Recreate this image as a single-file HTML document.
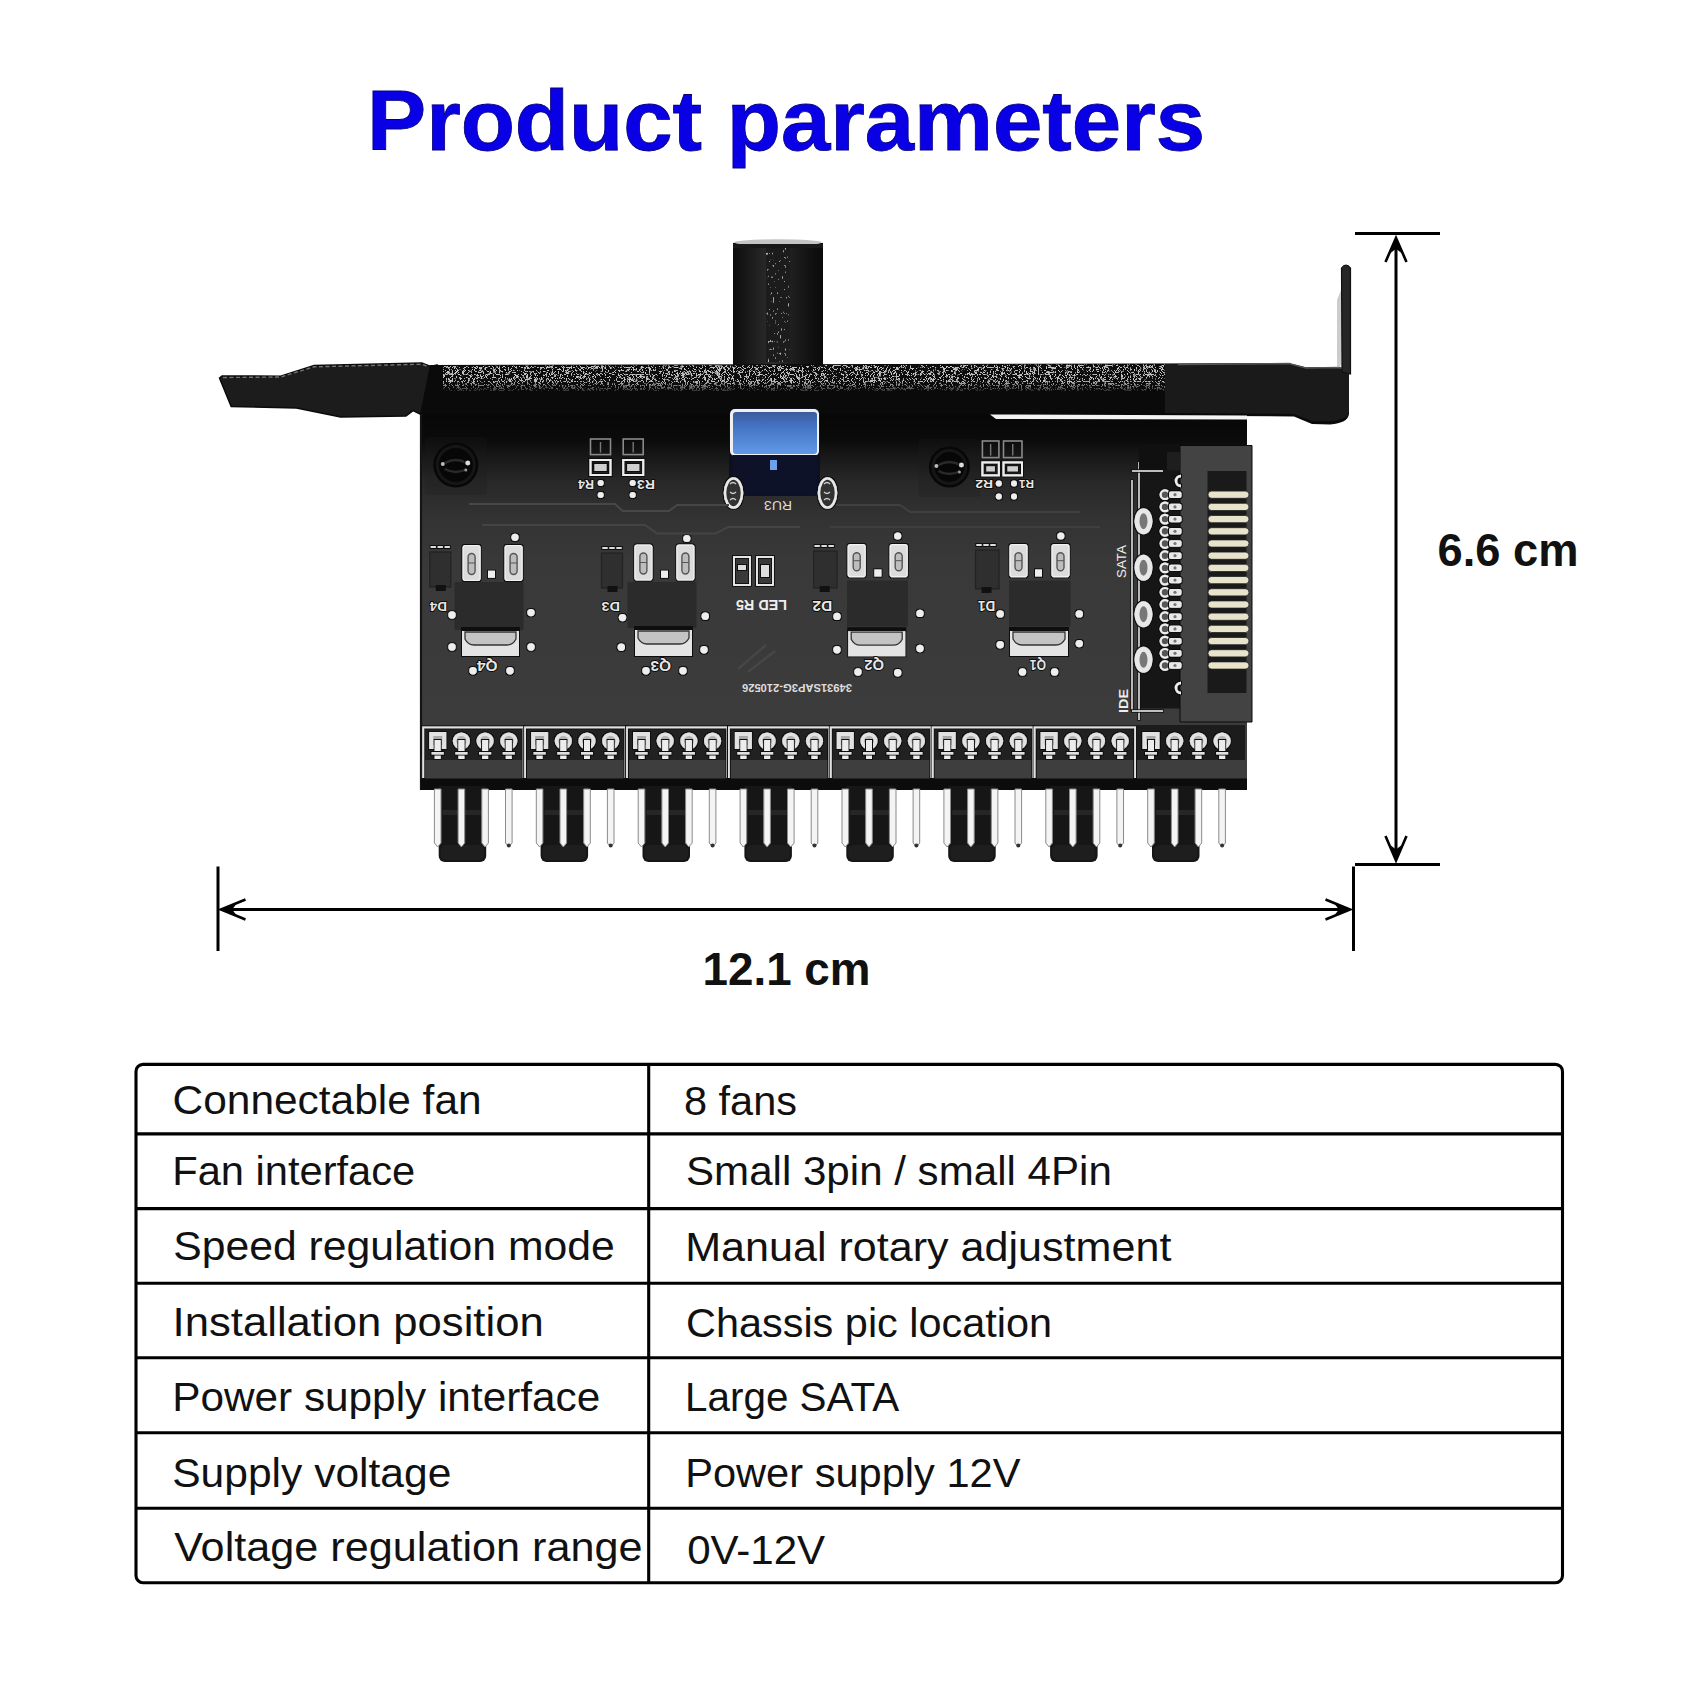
<!DOCTYPE html>
<html><head><meta charset="utf-8"><title>Product parameters</title>
<style>
html,body{margin:0;padding:0;background:#fff;}
body{width:1700px;height:1700px;overflow:hidden;font-family:"Liberation Sans",sans-serif;}
svg{display:block;position:absolute;left:0;top:0;}
</style></head>
<body>
<svg width="1700" height="1700" viewBox="0 0 1700 1700">
<defs>
<linearGradient id="pcbg" gradientUnits="userSpaceOnUse" x1="0" y1="414" x2="0" y2="788">
 <stop offset="0" stop-color="#070707"/><stop offset="0.07" stop-color="#0b0b0b"/><stop offset="0.11" stop-color="#171717"/><stop offset="0.18" stop-color="#282828"/><stop offset="0.28" stop-color="#333"/><stop offset="0.40" stop-color="#393939"/><stop offset="1" stop-color="#3d3d3d"/>
</linearGradient>
<linearGradient id="knobg" x1="0" y1="0" x2="1" y2="0">
 <stop offset="0" stop-color="#0c0c0c"/><stop offset="0.2" stop-color="#1c1c1c"/><stop offset="0.45" stop-color="#2e2e2e"/><stop offset="0.6" stop-color="#222"/><stop offset="0.85" stop-color="#121212"/><stop offset="1" stop-color="#0a0a0a"/>
</linearGradient>
<linearGradient id="blueg" x1="0" y1="0" x2="0" y2="1">
 <stop offset="0" stop-color="#3b5c9c"/><stop offset="0.35" stop-color="#4574c4"/><stop offset="1" stop-color="#6199e8"/>
</linearGradient>
<filter id="tex" x="0" y="0" width="1" height="1">
 <feTurbulence type="turbulence" baseFrequency="0.32 0.28" numOctaves="1" seed="7" result="n"/>
 <feColorMatrix in="n" type="matrix" values="0 0 0 0 0.55  0 0 0 0 0.55  0 0 0 0 0.55  -16 0 0 0 1.45" result="s"/>
 <feComposite in="s" in2="SourceGraphic" operator="in" result="sp"/>
 <feMerge><feMergeNode in="SourceGraphic"/><feMergeNode in="sp"/></feMerge>
</filter>
<filter id="tex2" x="0" y="0" width="1" height="1">
 <feTurbulence type="fractalNoise" baseFrequency="0.6 0.25" numOctaves="1" seed="11" result="n"/>
 <feColorMatrix in="n" type="matrix" values="0 0 0 0 0.5  0 0 0 0 0.5  0 0 0 0 0.5  9 0 0 0 -5.9" result="s"/>
 <feComposite in="s" in2="SourceGraphic" operator="in" result="sp"/>
 <feMerge><feMergeNode in="SourceGraphic"/><feMergeNode in="sp"/></feMerge>
</filter>
<filter id="halo" filterUnits="userSpaceOnUse" x="400" y="400" width="880" height="420">
 <feMorphology in="SourceAlpha" operator="dilate" radius="1.1" result="d"/>
 <feFlood flood-color="#0c0c0c"/>
 <feComposite in2="d" operator="in" result="o"/>
 <feMerge><feMergeNode in="o"/><feMergeNode in="SourceGraphic"/></feMerge>
</filter>
<linearGradient id="bandfade" x1="0" y1="0" x2="0" y2="1">
 <stop offset="0" stop-color="#0a0a0a" stop-opacity="0"/><stop offset="0.6" stop-color="#0a0a0a" stop-opacity="0"/><stop offset="1" stop-color="#0a0a0a" stop-opacity="0.85"/>
</linearGradient>
</defs>
<rect width="1700" height="1700" fill="#fff"/>
<text x="367" y="150" font-family="Liberation Sans" font-weight="bold" font-size="85" fill="#0a00e6" stroke="#05007a" stroke-width="0.8" textLength="838" lengthAdjust="spacingAndGlyphs">Product parameters</text>
<g id="product">
<rect x="733" y="243" width="90" height="124" fill="url(#knobg)"/>
<ellipse cx="778" cy="242.5" rx="44" ry="3.2" fill="#c4c4c4"/>
<rect x="733" y="244" width="90" height="4" fill="#181818"/>
<rect x="766" y="248" width="24" height="114" fill="#1e1e1e" filter="url(#tex2)"/>
<path d="M219.5,378 L222,376 L280.6,376.2 L314.1,365.6 L421.8,363 L430.6,366.5 L437,365 L437,414 L420,414 L413,410.6 L405.9,416 L340.6,417 L296.5,408 L231.2,406.5 Z" fill="#1c1c1c" stroke="#0a0a0a" stroke-width="1.5"/>
<path d="M430,365 L1289,363.2 L1306,367.5 L1340,367 L1349,372 L1349,414 Q1348,423 1330,424.5 L1312,424 L1294,416.5 L990,414.5 L420,414.5 Z" fill="#0a0a0a"/>
<path d="M443,366 L1165,364.5 L1165,391 L443,391 Z" fill="#0c0c0c" filter="url(#tex)"/>
<path d="M443,366 L1165,364.5 L1165,392 L443,392 Z" fill="url(#bandfade)"/>
<path d="M1165,364 L1289,363.2 L1306,367.5 L1340,367 L1349,372 L1349,412 Q1348,420 1330,421 L1312,421 L1294,414 L1165,413 Z" fill="#1a1a1a"/>
<path d="M1178,364.5 L1289,363.5 L1306,368 L1340,367.5 L1346,371" fill="none" stroke="#555" stroke-width="1.5"/>
<path d="M223,377.5 L280.6,377 L314.1,366.8 L421.8,364.2 L428,366.5" fill="none" stroke="#8a8a8a" stroke-width="1.4" stroke-dasharray="4 2.5" opacity="0.8"/>
<path d="M1342,372 L1341.5,268 Q1346,262 1350.5,268 L1350.5,374 Z" fill="#262626" stroke="#111" stroke-width="1.2"/>
<path d="M1337,300 L1341,290 L1341,365 L1337,368 Z" fill="#9a9a9a" opacity="0.5"/>
<rect x="420" y="414" width="827" height="374" fill="url(#pcbg)"/>
<line x1="421" y1="414" x2="421" y2="790" stroke="#151515" stroke-width="2.2"/>
<path d="M990,414.5 L1247,415.5 L1247,419.5 L996,419 Z" fill="#f4f4f4"/>
<rect x="424.8" y="437" width="62" height="58" rx="4" fill="#1c1c1c" opacity="0.25"/>
<circle cx="455.8" cy="465" r="22.5" fill="#070707"/>
<circle cx="455.8" cy="465" r="18.5" fill="none" stroke="#161616" stroke-width="3"/>
<path d="M444.8,463 Q455.8,457 466.8,463 M444.8,469 Q455.8,475 466.8,469" fill="none" stroke="#2a2a2a" stroke-width="2.5"/>
<circle cx="442.8" cy="464" r="2" fill="#bbb"/>
<circle filter="url(#halo)" cx="467.8" cy="463" r="2.3" fill="#ddd"/>
<circle cx="465.8" cy="470" r="1.5" fill="#999"/>
<rect x="918.4" y="439" width="62" height="58" rx="4" fill="#1c1c1c" opacity="0.25"/>
<circle cx="949.4" cy="467" r="20.5" fill="#070707"/>
<circle cx="949.4" cy="467" r="16.5" fill="none" stroke="#161616" stroke-width="3"/>
<path d="M938.4,465 Q949.4,459 960.4,465 M938.4,471 Q949.4,477 960.4,471" fill="none" stroke="#2a2a2a" stroke-width="2.5"/>
<circle cx="936.4" cy="466" r="2" fill="#bbb"/>
<circle filter="url(#halo)" cx="961.4" cy="465" r="2.3" fill="#ddd"/>
<circle cx="959.4" cy="472" r="1.5" fill="#999"/>
<rect x="729" y="408" width="91" height="88" rx="6" fill="#0c1020"/>
<rect x="730" y="409" width="89" height="47" rx="5" fill="#f0f0f0"/>
<rect x="733" y="412" width="84" height="42" rx="3" fill="url(#blueg)"/>
<rect x="733" y="455" width="84" height="40" fill="#0d1228"/>
<rect x="770" y="460" width="7" height="10" fill="#6fa0ea"/>
<ellipse filter="url(#halo)" cx="733.5" cy="493" rx="8.5" ry="14.5" fill="#333" stroke="#e8e8e8" stroke-width="2.6"/>
<path d="M730,484 q3,-3 6,0 M730,492 q3,3 6,0 M730,500 q3,-3 6,0" fill="none" stroke="#ccc" stroke-width="1.3"/>
<ellipse filter="url(#halo)" cx="827.5" cy="493" rx="8.5" ry="14.5" fill="#333" stroke="#e8e8e8" stroke-width="2.6"/>
<path d="M824,484 q3,-3 6,0 M824,492 q3,3 6,0 M824,500 q3,-3 6,0" fill="none" stroke="#ccc" stroke-width="1.3"/>
<text x="0" y="0" transform="translate(792,501) scale(-1,-1)" font-family="Liberation Sans" font-size="13" fill="#ddd" textLength="28" lengthAdjust="spacingAndGlyphs">RU3</text>
<rect x="590.5" y="439" width="20" height="15.600000000000023" fill="none" stroke="#8a8a8a" stroke-width="1.6"/><line x1="600.5" y1="442" x2="600.5" y2="452.6" stroke="#777" stroke-width="1.4"/><rect filter="url(#halo)" x="590.5" y="460" width="20" height="15" fill="none" stroke="#eee" stroke-width="2"/><rect filter="url(#halo)" x="594.5" y="464" width="12" height="7" fill="#cfcfcf"/>
<rect x="623.2" y="439" width="20" height="15.600000000000023" fill="none" stroke="#8a8a8a" stroke-width="1.6"/><line x1="633.2" y1="442" x2="633.2" y2="452.6" stroke="#777" stroke-width="1.4"/><rect filter="url(#halo)" x="623.2" y="460" width="20" height="15" fill="none" stroke="#eee" stroke-width="2"/><rect filter="url(#halo)" x="627.2" y="464" width="12" height="7" fill="#cfcfcf"/>
<rect x="982.4" y="441" width="16.5" height="16.600000000000023" fill="none" stroke="#8a8a8a" stroke-width="1.6"/><line x1="990.65" y1="444" x2="990.65" y2="455.6" stroke="#777" stroke-width="1.4"/><rect filter="url(#halo)" x="982.4" y="462.4" width="16.5" height="12.900000000000034" fill="none" stroke="#eee" stroke-width="2"/><rect filter="url(#halo)" x="986.4" y="466.4" width="8.5" height="4.900000000000034" fill="#cfcfcf"/>
<rect x="1003.5" y="441" width="18.5" height="16.600000000000023" fill="none" stroke="#8a8a8a" stroke-width="1.6"/><line x1="1012.75" y1="444" x2="1012.75" y2="455.6" stroke="#777" stroke-width="1.4"/><rect filter="url(#halo)" x="1003.5" y="462.4" width="18.5" height="12.900000000000034" fill="none" stroke="#eee" stroke-width="2"/><rect filter="url(#halo)" x="1007.5" y="466.4" width="10.5" height="4.900000000000034" fill="#cfcfcf"/>
<circle filter="url(#halo)" cx="600.7" cy="483" r="3" fill="#eee"/>
<circle filter="url(#halo)" cx="600.7" cy="495" r="3" fill="#eee"/>
<circle filter="url(#halo)" cx="632.7" cy="483" r="3" fill="#eee"/>
<circle filter="url(#halo)" cx="632.7" cy="495" r="3" fill="#eee"/>
<circle filter="url(#halo)" cx="998.8" cy="483.5" r="3" fill="#eee"/>
<circle filter="url(#halo)" cx="998.8" cy="496.5" r="3" fill="#eee"/>
<circle filter="url(#halo)" cx="1014" cy="483.5" r="3" fill="#eee"/>
<circle filter="url(#halo)" cx="1014" cy="496.5" r="3" fill="#eee"/>
<rect x="429.8" y="552" width="21" height="35" fill="#2f2f2f" stroke="#222" stroke-width="1.2"/>
<path filter="url(#halo)" d="M430.8,547 h5 M437.8,547 h5 M444.8,547 h5" stroke="#ddd" stroke-width="2.2"/>
<rect x="435.8" y="585" width="10" height="6" fill="#111"/>
<rect filter="url(#halo)" x="463.1" y="545.5" width="17" height="35" rx="2.5" fill="#dcdcdc" stroke="#f2f2f2" stroke-width="1.2"/>
<rect x="468.1" y="553.5" width="7" height="21" rx="3.5" fill="#bdbdbd" stroke="#555" stroke-width="1.4"/>
<line x1="468.1" y1="563.0" x2="475.1" y2="563.0" stroke="#555" stroke-width="1"/>
<rect filter="url(#halo)" x="505.1" y="545.5" width="17" height="35" rx="2.5" fill="#dcdcdc" stroke="#f2f2f2" stroke-width="1.2"/>
<rect x="510.1" y="553.5" width="7" height="21" rx="3.5" fill="#bdbdbd" stroke="#555" stroke-width="1.4"/>
<line x1="510.1" y1="563.0" x2="517.1" y2="563.0" stroke="#555" stroke-width="1"/>
<rect filter="url(#halo)" x="488.0" y="570.8" width="7" height="7" fill="#eee"/>
<circle filter="url(#halo)" cx="515" cy="537.3" r="3.6" fill="#eee"/>
<rect x="454.5" y="582" width="69" height="48" fill="#2b2b2b"/>
<rect x="461" y="627" width="59" height="5" fill="#0e0e0e"/>
<rect filter="url(#halo)" x="462" y="631" width="57" height="25" fill="#e4e4e4"/>
<path d="M465,632 L516,632 L516,639 Q513,645 507,645 L474,645 Q468,645 465,639 Z" fill="#c4c4c4" stroke="#333" stroke-width="1.3"/>
<circle filter="url(#halo)" cx="452" cy="615" r="3.7" fill="#eee"/>
<circle filter="url(#halo)" cx="531" cy="612.6" r="3.7" fill="#eee"/>
<circle filter="url(#halo)" cx="452" cy="647" r="3.7" fill="#eee"/>
<circle filter="url(#halo)" cx="531" cy="647" r="3.7" fill="#eee"/>
<circle filter="url(#halo)" cx="473" cy="670.7" r="3.7" fill="#eee"/>
<circle filter="url(#halo)" cx="510" cy="670.7" r="3.7" fill="#eee"/>
<rect x="601.5" y="553" width="21" height="35" fill="#2f2f2f" stroke="#222" stroke-width="1.2"/>
<path filter="url(#halo)" d="M602.5,548 h5 M609.5,548 h5 M616.5,548 h5" stroke="#ddd" stroke-width="2.2"/>
<rect x="607.5" y="586" width="10" height="6" fill="#111"/>
<rect filter="url(#halo)" x="634.9" y="545" width="17" height="35" rx="2.5" fill="#dcdcdc" stroke="#f2f2f2" stroke-width="1.2"/>
<rect x="639.9" y="553" width="7" height="21" rx="3.5" fill="#bdbdbd" stroke="#555" stroke-width="1.4"/>
<line x1="639.9" y1="562.5" x2="646.9" y2="562.5" stroke="#555" stroke-width="1"/>
<rect filter="url(#halo)" x="676.9" y="545" width="17" height="35" rx="2.5" fill="#dcdcdc" stroke="#f2f2f2" stroke-width="1.2"/>
<rect x="681.9" y="553" width="7" height="21" rx="3.5" fill="#bdbdbd" stroke="#555" stroke-width="1.4"/>
<line x1="681.9" y1="562.5" x2="688.9" y2="562.5" stroke="#555" stroke-width="1"/>
<rect filter="url(#halo)" x="661.0" y="570.8" width="7" height="7" fill="#eee"/>
<circle filter="url(#halo)" cx="686.8" cy="538.5" r="3.6" fill="#eee"/>
<rect x="627.5" y="582" width="69" height="46" fill="#2b2b2b"/>
<rect x="634" y="626" width="59" height="5" fill="#0e0e0e"/>
<rect filter="url(#halo)" x="635" y="630" width="57" height="26" fill="#e4e4e4"/>
<path d="M638,631 L689,631 L689,638 Q686,644 680,644 L647,644 Q641,644 638,638 Z" fill="#c4c4c4" stroke="#333" stroke-width="1.3"/>
<circle filter="url(#halo)" cx="622.5" cy="617.6" r="3.7" fill="#eee"/>
<circle filter="url(#halo)" cx="705.3" cy="616.3" r="3.7" fill="#eee"/>
<circle filter="url(#halo)" cx="621.3" cy="647.2" r="3.7" fill="#eee"/>
<circle filter="url(#halo)" cx="704" cy="649.7" r="3.7" fill="#eee"/>
<circle filter="url(#halo)" cx="646" cy="670.7" r="3.7" fill="#eee"/>
<circle filter="url(#halo)" cx="683" cy="670.7" r="3.7" fill="#eee"/>
<rect x="813.7" y="551" width="23.4" height="37" fill="#2f2f2f" stroke="#222" stroke-width="1.2"/>
<path filter="url(#halo)" d="M814.7,546 h5 M821.7,546 h5 M828.7,546 h5" stroke="#ddd" stroke-width="2.2"/>
<rect x="819.7" y="586" width="10" height="6" fill="#111"/>
<rect filter="url(#halo)" x="848.2" y="544.7" width="17" height="32" rx="2.5" fill="#dcdcdc" stroke="#f2f2f2" stroke-width="1.2"/>
<rect x="853.2" y="552.7" width="7" height="18" rx="3.5" fill="#bdbdbd" stroke="#555" stroke-width="1.4"/>
<line x1="853.2" y1="560.7" x2="860.2" y2="560.7" stroke="#555" stroke-width="1"/>
<rect filter="url(#halo)" x="890.2" y="544.7" width="17" height="32" rx="2.5" fill="#dcdcdc" stroke="#f2f2f2" stroke-width="1.2"/>
<rect x="895.2" y="552.7" width="7" height="18" rx="3.5" fill="#bdbdbd" stroke="#555" stroke-width="1.4"/>
<line x1="895.2" y1="560.7" x2="902.2" y2="560.7" stroke="#555" stroke-width="1"/>
<rect filter="url(#halo)" x="874.4" y="569.5" width="7" height="7" fill="#eee"/>
<circle filter="url(#halo)" cx="897.7" cy="536" r="3.6" fill="#eee"/>
<rect x="847" y="580.5" width="61" height="46" fill="#2b2b2b"/>
<rect x="847.2" y="627.2" width="59" height="5" fill="#0e0e0e"/>
<rect filter="url(#halo)" x="848.2" y="631.2" width="57" height="25" fill="#e4e4e4"/>
<path d="M851.2,632.2 L902.2,632.2 L902.2,639.2 Q899.2,645.2 893.2,645.2 L860.2,645.2 Q854.2,645.2 851.2,639.2 Z" fill="#c4c4c4" stroke="#333" stroke-width="1.3"/>
<circle filter="url(#halo)" cx="837" cy="616.4" r="3.7" fill="#eee"/>
<circle filter="url(#halo)" cx="920" cy="613.4" r="3.7" fill="#eee"/>
<circle filter="url(#halo)" cx="837" cy="649.7" r="3.7" fill="#eee"/>
<circle filter="url(#halo)" cx="920" cy="648.5" r="3.7" fill="#eee"/>
<circle filter="url(#halo)" cx="858" cy="672" r="3.7" fill="#eee"/>
<circle filter="url(#halo)" cx="897.7" cy="672.7" r="3.7" fill="#eee"/>
<rect x="975.5" y="550" width="23.5" height="39" fill="#2f2f2f" stroke="#222" stroke-width="1.2"/>
<path filter="url(#halo)" d="M976.5,545 h5 M983.5,545 h5 M990.5,545 h5" stroke="#ddd" stroke-width="2.2"/>
<rect x="981.5" y="587" width="10" height="6" fill="#111"/>
<rect filter="url(#halo)" x="1010" y="544.7" width="17" height="32" rx="2.5" fill="#dcdcdc" stroke="#f2f2f2" stroke-width="1.2"/>
<rect x="1015" y="552.7" width="7" height="18" rx="3.5" fill="#bdbdbd" stroke="#555" stroke-width="1.4"/>
<line x1="1015" y1="560.7" x2="1022" y2="560.7" stroke="#555" stroke-width="1"/>
<rect filter="url(#halo)" x="1052" y="544.7" width="17" height="32" rx="2.5" fill="#dcdcdc" stroke="#f2f2f2" stroke-width="1.2"/>
<rect x="1057" y="552.7" width="7" height="18" rx="3.5" fill="#bdbdbd" stroke="#555" stroke-width="1.4"/>
<line x1="1057" y1="560.7" x2="1064" y2="560.7" stroke="#555" stroke-width="1"/>
<rect filter="url(#halo)" x="1035.0" y="569.5" width="7" height="7" fill="#eee"/>
<circle filter="url(#halo)" cx="1060.8" cy="536" r="3.6" fill="#eee"/>
<rect x="1009" y="580.5" width="61.6" height="46" fill="#2b2b2b"/>
<rect x="1009" y="627" width="60" height="5" fill="#0e0e0e"/>
<rect filter="url(#halo)" x="1010" y="631" width="58" height="25" fill="#e4e4e4"/>
<path d="M1013,632 L1065,632 L1065,639 Q1062,645 1056,645 L1022,645 Q1016,645 1013,639 Z" fill="#c4c4c4" stroke="#333" stroke-width="1.3"/>
<circle filter="url(#halo)" cx="1000.2" cy="613.9" r="3.7" fill="#eee"/>
<circle filter="url(#halo)" cx="1079.3" cy="613.9" r="3.7" fill="#eee"/>
<circle filter="url(#halo)" cx="1000.2" cy="644.8" r="3.7" fill="#eee"/>
<circle filter="url(#halo)" cx="1079.3" cy="643.6" r="3.7" fill="#eee"/>
<circle filter="url(#halo)" cx="1022.5" cy="672" r="3.7" fill="#eee"/>
<circle filter="url(#halo)" cx="1054.6" cy="672" r="3.7" fill="#eee"/>
<text transform="translate(447,601.5) scale(-1,-1)" font-family="Liberation Sans" font-weight="bold" font-size="13.7" fill="#e6e6e6" stroke="#0c0c0c" stroke-width="1.8" paint-order="stroke" x="0" y="0" textLength="17.2" lengthAdjust="spacingAndGlyphs">D4</text>
<text transform="translate(497.5,661) scale(-1,-1)" font-family="Liberation Sans" font-weight="bold" font-size="13.9" fill="#e6e6e6" stroke="#0c0c0c" stroke-width="1.8" paint-order="stroke" x="0" y="0" textLength="20.5" lengthAdjust="spacingAndGlyphs">Q4</text>
<text transform="translate(620,601.5) scale(-1,-1)" font-family="Liberation Sans" font-weight="bold" font-size="13.7" fill="#e6e6e6" stroke="#0c0c0c" stroke-width="1.8" paint-order="stroke" x="0" y="0" textLength="18.5" lengthAdjust="spacingAndGlyphs">D3</text>
<text transform="translate(671,661) scale(-1,-1)" font-family="Liberation Sans" font-weight="bold" font-size="13.9" fill="#e6e6e6" stroke="#0c0c0c" stroke-width="1.8" paint-order="stroke" x="0" y="0" textLength="20.5" lengthAdjust="spacingAndGlyphs">Q3</text>
<text transform="translate(832.2,601) scale(-1,-1)" font-family="Liberation Sans" font-weight="bold" font-size="14.6" fill="#e6e6e6" stroke="#0c0c0c" stroke-width="1.8" paint-order="stroke" x="0" y="0" textLength="19.8" lengthAdjust="spacingAndGlyphs">D2</text>
<text transform="translate(884,660) scale(-1,-1)" font-family="Liberation Sans" font-weight="bold" font-size="14.6" fill="#e6e6e6" stroke="#0c0c0c" stroke-width="1.8" paint-order="stroke" x="0" y="0" textLength="19.7" lengthAdjust="spacingAndGlyphs">Q2</text>
<text transform="translate(995.3,601) scale(-1,-1)" font-family="Liberation Sans" font-weight="bold" font-size="14.6" fill="#e6e6e6" stroke="#0c0c0c" stroke-width="1.8" paint-order="stroke" x="0" y="0" textLength="17.3" lengthAdjust="spacingAndGlyphs">D1</text>
<text transform="translate(1046,660) scale(-1,-1)" font-family="Liberation Sans" font-weight="bold" font-size="14.6" fill="#e6e6e6" stroke="#0c0c0c" stroke-width="1.8" paint-order="stroke" x="0" y="0" textLength="16.1" lengthAdjust="spacingAndGlyphs">Q1</text>
<text transform="translate(594,479.5) scale(-1,-1)" font-family="Liberation Sans" font-weight="bold" font-size="12.5" fill="#e6e6e6" stroke="#0c0c0c" stroke-width="1.8" paint-order="stroke" x="0" y="0" textLength="16.0" lengthAdjust="spacingAndGlyphs">R4</text>
<text transform="translate(655,479.5) scale(-1,-1)" font-family="Liberation Sans" font-weight="bold" font-size="12.5" fill="#e6e6e6" stroke="#0c0c0c" stroke-width="1.8" paint-order="stroke" x="0" y="0" textLength="18.0" lengthAdjust="spacingAndGlyphs">R3</text>
<text transform="translate(993,480) scale(-1,-1)" font-family="Liberation Sans" font-weight="bold" font-size="11.1" fill="#e6e6e6" stroke="#0c0c0c" stroke-width="1.8" paint-order="stroke" x="0" y="0" textLength="17.7" lengthAdjust="spacingAndGlyphs">R2</text>
<text transform="translate(1034,480) scale(-1,-1)" font-family="Liberation Sans" font-weight="bold" font-size="11.1" fill="#e6e6e6" stroke="#0c0c0c" stroke-width="1.8" paint-order="stroke" x="0" y="0" textLength="15.0" lengthAdjust="spacingAndGlyphs">R1</text>
<path d="M469,504 L615,504 L622.5,511 L669,511 L677,505 L729,505" fill="none" stroke="#474747" stroke-width="2"/>
<path d="M482,525 L645,525 L657,533.5 L716,533.5 L728,527 L800,527" fill="none" stroke="#444" stroke-width="2"/>
<path d="M836,505 L900,505 L910,512 L1080,512" fill="none" stroke="#404040" stroke-width="2"/>
<path d="M830,527 L1100,527" fill="none" stroke="#3f3f3f" stroke-width="2"/>
<path d="M738,669 L766,645 M748,672 L775,651" fill="none" stroke="#474747" stroke-width="2.4"/>
<rect filter="url(#halo)" x="734" y="557" width="16" height="28" fill="none" stroke="#eee" stroke-width="1.8"/>
<rect filter="url(#halo)" x="757" y="557" width="16" height="28" fill="none" stroke="#eee" stroke-width="1.8"/>
<rect filter="url(#halo)" x="738" y="565" width="8" height="5" fill="#ddd"/><rect filter="url(#halo)" x="761" y="565" width="8" height="12" fill="#ddd"/>
<text transform="translate(787,600) scale(-1,-1)" font-family="Liberation Sans" font-weight="bold" font-size="14" fill="#eee" x="0" y="0" textLength="51" lengthAdjust="spacingAndGlyphs">LED R5</text>
<text transform="translate(852,684) scale(-1,-1)" font-family="Liberation Sans" font-weight="bold" font-size="11" fill="#ddd" x="0" y="0" textLength="110" lengthAdjust="spacingAndGlyphs">34931SAP3G-210526</text>
<rect x="1139" y="445.5" width="44" height="263" fill="#161616"/>
<path d="M1180,445.5 L1252,445.5 L1252,722 L1180,722 Z" fill="#434343" stroke="#0a0a0a" stroke-width="1"/>
<rect x="1207.5" y="471" width="39" height="222" fill="#1a1a1a"/>
<rect x="1208" y="491.1" width="41" height="7.2" rx="3.6" fill="#e7e4cb" stroke="#222" stroke-width="0.8"/>
<rect x="1208" y="503.3" width="41" height="7.2" rx="3.6" fill="#e7e4cb" stroke="#222" stroke-width="0.8"/>
<rect x="1208" y="515.5" width="41" height="7.2" rx="3.6" fill="#e7e4cb" stroke="#222" stroke-width="0.8"/>
<rect x="1208" y="527.7" width="41" height="7.2" rx="3.6" fill="#e7e4cb" stroke="#222" stroke-width="0.8"/>
<rect x="1208" y="539.9" width="41" height="7.2" rx="3.6" fill="#e7e4cb" stroke="#222" stroke-width="0.8"/>
<rect x="1208" y="552.1" width="41" height="7.2" rx="3.6" fill="#e7e4cb" stroke="#222" stroke-width="0.8"/>
<rect x="1208" y="564.3" width="41" height="7.2" rx="3.6" fill="#e7e4cb" stroke="#222" stroke-width="0.8"/>
<rect x="1208" y="576.5" width="41" height="7.2" rx="3.6" fill="#e7e4cb" stroke="#222" stroke-width="0.8"/>
<rect x="1208" y="588.7" width="41" height="7.2" rx="3.6" fill="#e7e4cb" stroke="#222" stroke-width="0.8"/>
<rect x="1208" y="600.9" width="41" height="7.2" rx="3.6" fill="#e7e4cb" stroke="#222" stroke-width="0.8"/>
<rect x="1208" y="613.1" width="41" height="7.2" rx="3.6" fill="#e7e4cb" stroke="#222" stroke-width="0.8"/>
<rect x="1208" y="625.3" width="41" height="7.2" rx="3.6" fill="#e7e4cb" stroke="#222" stroke-width="0.8"/>
<rect x="1208" y="637.5" width="41" height="7.2" rx="3.6" fill="#e7e4cb" stroke="#222" stroke-width="0.8"/>
<rect x="1208" y="649.7" width="41" height="7.2" rx="3.6" fill="#e7e4cb" stroke="#222" stroke-width="0.8"/>
<rect x="1208" y="661.9" width="41" height="7.2" rx="3.6" fill="#e7e4cb" stroke="#222" stroke-width="0.8"/>
<path filter="url(#halo)" d="M1132,480 L1132,710 M1139,462 L1139,720" stroke="#ddd" stroke-width="1.4"/>
<ellipse filter="url(#halo)" cx="1143.5" cy="521.2" rx="9" ry="13" fill="#e8e8e8"/>
<ellipse cx="1143.5" cy="521.2" rx="4" ry="8" fill="#777"/>
<ellipse filter="url(#halo)" cx="1143.5" cy="567.7" rx="9" ry="13" fill="#e8e8e8"/>
<ellipse cx="1143.5" cy="567.7" rx="4" ry="8" fill="#777"/>
<ellipse filter="url(#halo)" cx="1143.5" cy="614.2" rx="9" ry="13" fill="#e8e8e8"/>
<ellipse cx="1143.5" cy="614.2" rx="4" ry="8" fill="#777"/>
<ellipse filter="url(#halo)" cx="1143.5" cy="659.8" rx="9" ry="13" fill="#e8e8e8"/>
<ellipse cx="1143.5" cy="659.8" rx="4" ry="8" fill="#777"/>
<circle filter="url(#halo)" cx="1165" cy="494.7" r="4.3" fill="#555" stroke="#eee" stroke-width="2.2"/>
<rect filter="url(#halo)" x="1169" y="491.5" width="12.5" height="6.4" rx="2" fill="#e8e8e8"/>
<circle cx="1175" cy="494.7" r="1.6" fill="#777"/>
<circle filter="url(#halo)" cx="1165" cy="506.9" r="4.3" fill="#555" stroke="#eee" stroke-width="2.2"/>
<rect filter="url(#halo)" x="1169" y="503.7" width="12.5" height="6.4" rx="2" fill="#e8e8e8"/>
<circle cx="1175" cy="506.9" r="1.6" fill="#777"/>
<circle filter="url(#halo)" cx="1165" cy="519.1" r="4.3" fill="#555" stroke="#eee" stroke-width="2.2"/>
<rect filter="url(#halo)" x="1169" y="515.9" width="12.5" height="6.4" rx="2" fill="#e8e8e8"/>
<circle cx="1175" cy="519.1" r="1.6" fill="#777"/>
<circle filter="url(#halo)" cx="1165" cy="531.3" r="4.3" fill="#555" stroke="#eee" stroke-width="2.2"/>
<rect filter="url(#halo)" x="1169" y="528.1" width="12.5" height="6.4" rx="2" fill="#e8e8e8"/>
<circle cx="1175" cy="531.3" r="1.6" fill="#777"/>
<circle filter="url(#halo)" cx="1165" cy="543.5" r="4.3" fill="#555" stroke="#eee" stroke-width="2.2"/>
<rect filter="url(#halo)" x="1169" y="540.3" width="12.5" height="6.4" rx="2" fill="#e8e8e8"/>
<circle cx="1175" cy="543.5" r="1.6" fill="#777"/>
<circle filter="url(#halo)" cx="1165" cy="555.7" r="4.3" fill="#555" stroke="#eee" stroke-width="2.2"/>
<rect filter="url(#halo)" x="1169" y="552.5" width="12.5" height="6.4" rx="2" fill="#e8e8e8"/>
<circle cx="1175" cy="555.7" r="1.6" fill="#777"/>
<circle filter="url(#halo)" cx="1165" cy="567.9" r="4.3" fill="#555" stroke="#eee" stroke-width="2.2"/>
<rect filter="url(#halo)" x="1169" y="564.7" width="12.5" height="6.4" rx="2" fill="#e8e8e8"/>
<circle cx="1175" cy="567.9" r="1.6" fill="#777"/>
<circle filter="url(#halo)" cx="1165" cy="580.1" r="4.3" fill="#555" stroke="#eee" stroke-width="2.2"/>
<rect filter="url(#halo)" x="1169" y="576.9" width="12.5" height="6.4" rx="2" fill="#e8e8e8"/>
<circle cx="1175" cy="580.1" r="1.6" fill="#777"/>
<circle filter="url(#halo)" cx="1165" cy="592.3" r="4.3" fill="#555" stroke="#eee" stroke-width="2.2"/>
<rect filter="url(#halo)" x="1169" y="589.1" width="12.5" height="6.4" rx="2" fill="#e8e8e8"/>
<circle cx="1175" cy="592.3" r="1.6" fill="#777"/>
<circle filter="url(#halo)" cx="1165" cy="604.5" r="4.3" fill="#555" stroke="#eee" stroke-width="2.2"/>
<rect filter="url(#halo)" x="1169" y="601.3" width="12.5" height="6.4" rx="2" fill="#e8e8e8"/>
<circle cx="1175" cy="604.5" r="1.6" fill="#777"/>
<circle filter="url(#halo)" cx="1165" cy="616.7" r="4.3" fill="#555" stroke="#eee" stroke-width="2.2"/>
<rect filter="url(#halo)" x="1169" y="613.5" width="12.5" height="6.4" rx="2" fill="#e8e8e8"/>
<circle cx="1175" cy="616.7" r="1.6" fill="#777"/>
<circle filter="url(#halo)" cx="1165" cy="628.9" r="4.3" fill="#555" stroke="#eee" stroke-width="2.2"/>
<rect filter="url(#halo)" x="1169" y="625.7" width="12.5" height="6.4" rx="2" fill="#e8e8e8"/>
<circle cx="1175" cy="628.9" r="1.6" fill="#777"/>
<circle filter="url(#halo)" cx="1165" cy="641.1" r="4.3" fill="#555" stroke="#eee" stroke-width="2.2"/>
<rect filter="url(#halo)" x="1169" y="637.9" width="12.5" height="6.4" rx="2" fill="#e8e8e8"/>
<circle cx="1175" cy="641.1" r="1.6" fill="#777"/>
<circle filter="url(#halo)" cx="1165" cy="653.3" r="4.3" fill="#555" stroke="#eee" stroke-width="2.2"/>
<rect filter="url(#halo)" x="1169" y="650.1" width="12.5" height="6.4" rx="2" fill="#e8e8e8"/>
<circle cx="1175" cy="653.3" r="1.6" fill="#777"/>
<circle filter="url(#halo)" cx="1165" cy="665.5" r="4.3" fill="#555" stroke="#eee" stroke-width="2.2"/>
<rect filter="url(#halo)" x="1169" y="662.3" width="12.5" height="6.4" rx="2" fill="#e8e8e8"/>
<circle cx="1175" cy="665.5" r="1.6" fill="#777"/>
<path filter="url(#halo)" d="M1181,476 a5,5 0 0 0 -5,5 a5,5 0 0 0 5,5" fill="none" stroke="#eee" stroke-width="2.4"/>
<path filter="url(#halo)" d="M1181,683 a5,5 0 0 0 -5,5 a5,5 0 0 0 5,5" fill="none" stroke="#eee" stroke-width="2.4"/>
<path filter="url(#halo)" d="M1132,471 L1163,471 M1132,711 L1163,711" stroke="#ddd" stroke-width="1.4"/>
<path d="M1139,446 L1180,446 L1180,470 L1139,470 Z" fill="#101010"/>
<path d="M1167,452 L1180,452 L1180,470 L1167,470 Z" fill="#1e1e1e"/>
<text transform="translate(1126,578) rotate(-90)" font-family="Liberation Sans" font-size="13" fill="#eee" textLength="33" lengthAdjust="spacingAndGlyphs">SATA</text>
<text transform="translate(1128,713) rotate(-90)" font-family="Liberation Sans" font-weight="bold" font-size="13" fill="#eee" textLength="24" lengthAdjust="spacingAndGlyphs">IDE</text>
<rect x="421" y="758" width="826" height="21" fill="#3e3e3e"/>
<rect x="421" y="778.5" width="826" height="11.5" fill="#0c0c0c"/>
<rect x="423.2" y="728" width="100.5" height="32" fill="#212121"/>
<path filter="url(#halo)" d="M423.2,778 L423.2,727.3 L523.7,727.3 L523.7,778" fill="none" stroke="#e0e0e0" stroke-width="1.8"/>
<rect filter="url(#halo)" x="429.2" y="732" width="17" height="17" fill="#e2e2e2"/>
<rect x="433.2" y="736" width="9" height="9" fill="#aaa"/>
<rect filter="url(#halo)" x="434.7" y="740" width="6" height="19" fill="#ececec"/>
<rect filter="url(#halo)" x="431.7" y="752" width="12" height="2.5" fill="#e0e0e0"/>
<circle filter="url(#halo)" cx="461.4" cy="741" r="8.6" fill="#e2e2e2"/>
<circle cx="461.4" cy="741" r="5" fill="#b4b4b4"/>
<rect filter="url(#halo)" x="458.4" y="740" width="6" height="19" fill="#ececec"/>
<rect filter="url(#halo)" x="455.4" y="752" width="12" height="2.5" fill="#e0e0e0"/>
<circle filter="url(#halo)" cx="485.1" cy="741" r="8.6" fill="#e2e2e2"/>
<circle cx="485.1" cy="741" r="5" fill="#b4b4b4"/>
<rect filter="url(#halo)" x="482.1" y="740" width="6" height="19" fill="#ececec"/>
<rect filter="url(#halo)" x="479.1" y="752" width="12" height="2.5" fill="#e0e0e0"/>
<circle filter="url(#halo)" cx="508.8" cy="741" r="8.6" fill="#e2e2e2"/>
<circle cx="508.8" cy="741" r="5" fill="#b4b4b4"/>
<rect filter="url(#halo)" x="505.8" y="740" width="6" height="19" fill="#ececec"/>
<rect filter="url(#halo)" x="502.8" y="752" width="12" height="2.5" fill="#e0e0e0"/>
<rect x="438.7" y="786" width="47.5" height="76" rx="6" fill="#161616"/>
<rect x="438.7" y="786" width="47.5" height="12" fill="#161616"/>
<rect x="442.7" y="810" width="39" height="5" fill="#262626"/>
<rect x="440.7" y="845" width="43.5" height="15" rx="5" fill="#1e1e1e"/>
<path d="M434.4,789 L441.0,789 L441.0,843 L437.7,847 L434.4,843 Z" fill="#f4f4f4" stroke="#8a8a8a" stroke-width="1"/>
<path d="M458.1,789 L464.7,789 L464.7,843 L461.4,847 L458.1,843 Z" fill="#f4f4f4" stroke="#8a8a8a" stroke-width="1"/>
<path d="M481.8,789 L488.4,789 L488.4,843 L485.1,847 L481.8,843 Z" fill="#f4f4f4" stroke="#8a8a8a" stroke-width="1"/>
<path d="M505.5,789 L512.1,789 L512.1,843 L508.8,847 L505.5,843 Z" fill="#f4f4f4" stroke="#8a8a8a" stroke-width="1"/>
<circle cx="508.8" cy="845.5" r="2" fill="#333"/>
<rect x="525.1" y="728" width="100.5" height="32" fill="#212121"/>
<path filter="url(#halo)" d="M525.1,778 L525.1,727.3 L625.6,727.3 L625.6,778" fill="none" stroke="#e0e0e0" stroke-width="1.8"/>
<rect filter="url(#halo)" x="531.1" y="732" width="17" height="17" fill="#e2e2e2"/>
<rect x="535.1" y="736" width="9" height="9" fill="#aaa"/>
<rect filter="url(#halo)" x="536.6" y="740" width="6" height="19" fill="#ececec"/>
<rect filter="url(#halo)" x="533.6" y="752" width="12" height="2.5" fill="#e0e0e0"/>
<circle filter="url(#halo)" cx="563.3" cy="741" r="8.6" fill="#e2e2e2"/>
<circle cx="563.3" cy="741" r="5" fill="#b4b4b4"/>
<rect filter="url(#halo)" x="560.3" y="740" width="6" height="19" fill="#ececec"/>
<rect filter="url(#halo)" x="557.3" y="752" width="12" height="2.5" fill="#e0e0e0"/>
<circle filter="url(#halo)" cx="587.0" cy="741" r="8.6" fill="#e2e2e2"/>
<circle cx="587.0" cy="741" r="5" fill="#b4b4b4"/>
<rect filter="url(#halo)" x="584.0" y="740" width="6" height="19" fill="#ececec"/>
<rect filter="url(#halo)" x="581.0" y="752" width="12" height="2.5" fill="#e0e0e0"/>
<circle filter="url(#halo)" cx="610.7" cy="741" r="8.6" fill="#e2e2e2"/>
<circle cx="610.7" cy="741" r="5" fill="#b4b4b4"/>
<rect filter="url(#halo)" x="607.7" y="740" width="6" height="19" fill="#ececec"/>
<rect filter="url(#halo)" x="604.7" y="752" width="12" height="2.5" fill="#e0e0e0"/>
<rect x="540.6" y="786" width="47.5" height="76" rx="6" fill="#161616"/>
<rect x="540.6" y="786" width="47.5" height="12" fill="#161616"/>
<rect x="544.6" y="810" width="39" height="5" fill="#262626"/>
<rect x="542.6" y="845" width="43.5" height="15" rx="5" fill="#1e1e1e"/>
<path d="M536.3,789 L542.9,789 L542.9,843 L539.6,847 L536.3,843 Z" fill="#f4f4f4" stroke="#8a8a8a" stroke-width="1"/>
<path d="M560.0,789 L566.6,789 L566.6,843 L563.3,847 L560.0,843 Z" fill="#f4f4f4" stroke="#8a8a8a" stroke-width="1"/>
<path d="M583.7,789 L590.3,789 L590.3,843 L587.0,847 L583.7,843 Z" fill="#f4f4f4" stroke="#8a8a8a" stroke-width="1"/>
<path d="M607.4,789 L614.0,789 L614.0,843 L610.7,847 L607.4,843 Z" fill="#f4f4f4" stroke="#8a8a8a" stroke-width="1"/>
<circle cx="610.7" cy="845.5" r="2" fill="#333"/>
<rect x="627.0" y="728" width="100.5" height="32" fill="#212121"/>
<path filter="url(#halo)" d="M627.0,778 L627.0,727.3 L727.5,727.3 L727.5,778" fill="none" stroke="#e0e0e0" stroke-width="1.8"/>
<rect filter="url(#halo)" x="633.0" y="732" width="17" height="17" fill="#e2e2e2"/>
<rect x="637.0" y="736" width="9" height="9" fill="#aaa"/>
<rect filter="url(#halo)" x="638.5" y="740" width="6" height="19" fill="#ececec"/>
<rect filter="url(#halo)" x="635.5" y="752" width="12" height="2.5" fill="#e0e0e0"/>
<circle filter="url(#halo)" cx="665.2" cy="741" r="8.6" fill="#e2e2e2"/>
<circle cx="665.2" cy="741" r="5" fill="#b4b4b4"/>
<rect filter="url(#halo)" x="662.2" y="740" width="6" height="19" fill="#ececec"/>
<rect filter="url(#halo)" x="659.2" y="752" width="12" height="2.5" fill="#e0e0e0"/>
<circle filter="url(#halo)" cx="688.9" cy="741" r="8.6" fill="#e2e2e2"/>
<circle cx="688.9" cy="741" r="5" fill="#b4b4b4"/>
<rect filter="url(#halo)" x="685.9" y="740" width="6" height="19" fill="#ececec"/>
<rect filter="url(#halo)" x="682.9" y="752" width="12" height="2.5" fill="#e0e0e0"/>
<circle filter="url(#halo)" cx="712.6" cy="741" r="8.6" fill="#e2e2e2"/>
<circle cx="712.6" cy="741" r="5" fill="#b4b4b4"/>
<rect filter="url(#halo)" x="709.6" y="740" width="6" height="19" fill="#ececec"/>
<rect filter="url(#halo)" x="706.6" y="752" width="12" height="2.5" fill="#e0e0e0"/>
<rect x="642.5" y="786" width="47.5" height="76" rx="6" fill="#161616"/>
<rect x="642.5" y="786" width="47.5" height="12" fill="#161616"/>
<rect x="646.5" y="810" width="39" height="5" fill="#262626"/>
<rect x="644.5" y="845" width="43.5" height="15" rx="5" fill="#1e1e1e"/>
<path d="M638.2,789 L644.8,789 L644.8,843 L641.5,847 L638.2,843 Z" fill="#f4f4f4" stroke="#8a8a8a" stroke-width="1"/>
<path d="M661.9,789 L668.5,789 L668.5,843 L665.2,847 L661.9,843 Z" fill="#f4f4f4" stroke="#8a8a8a" stroke-width="1"/>
<path d="M685.6,789 L692.2,789 L692.2,843 L688.9,847 L685.6,843 Z" fill="#f4f4f4" stroke="#8a8a8a" stroke-width="1"/>
<path d="M709.3,789 L715.9,789 L715.9,843 L712.6,847 L709.3,843 Z" fill="#f4f4f4" stroke="#8a8a8a" stroke-width="1"/>
<circle cx="712.6" cy="845.5" r="2" fill="#333"/>
<rect x="728.9" y="728" width="100.5" height="32" fill="#212121"/>
<path filter="url(#halo)" d="M728.9,778 L728.9,727.3 L829.4,727.3 L829.4,778" fill="none" stroke="#e0e0e0" stroke-width="1.8"/>
<rect filter="url(#halo)" x="734.9" y="732" width="17" height="17" fill="#e2e2e2"/>
<rect x="738.9" y="736" width="9" height="9" fill="#aaa"/>
<rect filter="url(#halo)" x="740.4" y="740" width="6" height="19" fill="#ececec"/>
<rect filter="url(#halo)" x="737.4" y="752" width="12" height="2.5" fill="#e0e0e0"/>
<circle filter="url(#halo)" cx="767.1" cy="741" r="8.6" fill="#e2e2e2"/>
<circle cx="767.1" cy="741" r="5" fill="#b4b4b4"/>
<rect filter="url(#halo)" x="764.1" y="740" width="6" height="19" fill="#ececec"/>
<rect filter="url(#halo)" x="761.1" y="752" width="12" height="2.5" fill="#e0e0e0"/>
<circle filter="url(#halo)" cx="790.8" cy="741" r="8.6" fill="#e2e2e2"/>
<circle cx="790.8" cy="741" r="5" fill="#b4b4b4"/>
<rect filter="url(#halo)" x="787.8" y="740" width="6" height="19" fill="#ececec"/>
<rect filter="url(#halo)" x="784.8" y="752" width="12" height="2.5" fill="#e0e0e0"/>
<circle filter="url(#halo)" cx="814.5" cy="741" r="8.6" fill="#e2e2e2"/>
<circle cx="814.5" cy="741" r="5" fill="#b4b4b4"/>
<rect filter="url(#halo)" x="811.5" y="740" width="6" height="19" fill="#ececec"/>
<rect filter="url(#halo)" x="808.5" y="752" width="12" height="2.5" fill="#e0e0e0"/>
<rect x="744.4" y="786" width="47.5" height="76" rx="6" fill="#161616"/>
<rect x="744.4" y="786" width="47.5" height="12" fill="#161616"/>
<rect x="748.4" y="810" width="39" height="5" fill="#262626"/>
<rect x="746.4" y="845" width="43.5" height="15" rx="5" fill="#1e1e1e"/>
<path d="M740.1,789 L746.7,789 L746.7,843 L743.4,847 L740.1,843 Z" fill="#f4f4f4" stroke="#8a8a8a" stroke-width="1"/>
<path d="M763.8,789 L770.4,789 L770.4,843 L767.1,847 L763.8,843 Z" fill="#f4f4f4" stroke="#8a8a8a" stroke-width="1"/>
<path d="M787.5,789 L794.1,789 L794.1,843 L790.8,847 L787.5,843 Z" fill="#f4f4f4" stroke="#8a8a8a" stroke-width="1"/>
<path d="M811.2,789 L817.8,789 L817.8,843 L814.5,847 L811.2,843 Z" fill="#f4f4f4" stroke="#8a8a8a" stroke-width="1"/>
<circle cx="814.5" cy="845.5" r="2" fill="#333"/>
<rect x="830.8" y="728" width="100.5" height="32" fill="#212121"/>
<path filter="url(#halo)" d="M830.8,778 L830.8,727.3 L931.3,727.3 L931.3,778" fill="none" stroke="#e0e0e0" stroke-width="1.8"/>
<rect filter="url(#halo)" x="836.8" y="732" width="17" height="17" fill="#e2e2e2"/>
<rect x="840.8" y="736" width="9" height="9" fill="#aaa"/>
<rect filter="url(#halo)" x="842.3" y="740" width="6" height="19" fill="#ececec"/>
<rect filter="url(#halo)" x="839.3" y="752" width="12" height="2.5" fill="#e0e0e0"/>
<circle filter="url(#halo)" cx="869.0" cy="741" r="8.6" fill="#e2e2e2"/>
<circle cx="869.0" cy="741" r="5" fill="#b4b4b4"/>
<rect filter="url(#halo)" x="866.0" y="740" width="6" height="19" fill="#ececec"/>
<rect filter="url(#halo)" x="863.0" y="752" width="12" height="2.5" fill="#e0e0e0"/>
<circle filter="url(#halo)" cx="892.7" cy="741" r="8.6" fill="#e2e2e2"/>
<circle cx="892.7" cy="741" r="5" fill="#b4b4b4"/>
<rect filter="url(#halo)" x="889.7" y="740" width="6" height="19" fill="#ececec"/>
<rect filter="url(#halo)" x="886.7" y="752" width="12" height="2.5" fill="#e0e0e0"/>
<circle filter="url(#halo)" cx="916.4" cy="741" r="8.6" fill="#e2e2e2"/>
<circle cx="916.4" cy="741" r="5" fill="#b4b4b4"/>
<rect filter="url(#halo)" x="913.4" y="740" width="6" height="19" fill="#ececec"/>
<rect filter="url(#halo)" x="910.4" y="752" width="12" height="2.5" fill="#e0e0e0"/>
<rect x="846.3" y="786" width="47.5" height="76" rx="6" fill="#161616"/>
<rect x="846.3" y="786" width="47.5" height="12" fill="#161616"/>
<rect x="850.3" y="810" width="39" height="5" fill="#262626"/>
<rect x="848.3" y="845" width="43.5" height="15" rx="5" fill="#1e1e1e"/>
<path d="M842.0,789 L848.6,789 L848.6,843 L845.3,847 L842.0,843 Z" fill="#f4f4f4" stroke="#8a8a8a" stroke-width="1"/>
<path d="M865.7,789 L872.3,789 L872.3,843 L869.0,847 L865.7,843 Z" fill="#f4f4f4" stroke="#8a8a8a" stroke-width="1"/>
<path d="M889.4,789 L896.0,789 L896.0,843 L892.7,847 L889.4,843 Z" fill="#f4f4f4" stroke="#8a8a8a" stroke-width="1"/>
<path d="M913.1,789 L919.7,789 L919.7,843 L916.4,847 L913.1,843 Z" fill="#f4f4f4" stroke="#8a8a8a" stroke-width="1"/>
<circle cx="916.4" cy="845.5" r="2" fill="#333"/>
<rect x="932.7" y="728" width="100.5" height="32" fill="#212121"/>
<path filter="url(#halo)" d="M932.7,778 L932.7,727.3 L1033.2,727.3 L1033.2,778" fill="none" stroke="#e0e0e0" stroke-width="1.8"/>
<rect filter="url(#halo)" x="938.7" y="732" width="17" height="17" fill="#e2e2e2"/>
<rect x="942.7" y="736" width="9" height="9" fill="#aaa"/>
<rect filter="url(#halo)" x="944.2" y="740" width="6" height="19" fill="#ececec"/>
<rect filter="url(#halo)" x="941.2" y="752" width="12" height="2.5" fill="#e0e0e0"/>
<circle filter="url(#halo)" cx="970.9" cy="741" r="8.6" fill="#e2e2e2"/>
<circle cx="970.9" cy="741" r="5" fill="#b4b4b4"/>
<rect filter="url(#halo)" x="967.9" y="740" width="6" height="19" fill="#ececec"/>
<rect filter="url(#halo)" x="964.9" y="752" width="12" height="2.5" fill="#e0e0e0"/>
<circle filter="url(#halo)" cx="994.6" cy="741" r="8.6" fill="#e2e2e2"/>
<circle cx="994.6" cy="741" r="5" fill="#b4b4b4"/>
<rect filter="url(#halo)" x="991.6" y="740" width="6" height="19" fill="#ececec"/>
<rect filter="url(#halo)" x="988.6" y="752" width="12" height="2.5" fill="#e0e0e0"/>
<circle filter="url(#halo)" cx="1018.3" cy="741" r="8.6" fill="#e2e2e2"/>
<circle cx="1018.3" cy="741" r="5" fill="#b4b4b4"/>
<rect filter="url(#halo)" x="1015.3" y="740" width="6" height="19" fill="#ececec"/>
<rect filter="url(#halo)" x="1012.3" y="752" width="12" height="2.5" fill="#e0e0e0"/>
<rect x="948.2" y="786" width="47.5" height="76" rx="6" fill="#161616"/>
<rect x="948.2" y="786" width="47.5" height="12" fill="#161616"/>
<rect x="952.2" y="810" width="39" height="5" fill="#262626"/>
<rect x="950.2" y="845" width="43.5" height="15" rx="5" fill="#1e1e1e"/>
<path d="M943.9,789 L950.5,789 L950.5,843 L947.2,847 L943.9,843 Z" fill="#f4f4f4" stroke="#8a8a8a" stroke-width="1"/>
<path d="M967.6,789 L974.2,789 L974.2,843 L970.9,847 L967.6,843 Z" fill="#f4f4f4" stroke="#8a8a8a" stroke-width="1"/>
<path d="M991.3,789 L997.9,789 L997.9,843 L994.6,847 L991.3,843 Z" fill="#f4f4f4" stroke="#8a8a8a" stroke-width="1"/>
<path d="M1015.0,789 L1021.6,789 L1021.6,843 L1018.3,847 L1015.0,843 Z" fill="#f4f4f4" stroke="#8a8a8a" stroke-width="1"/>
<circle cx="1018.3" cy="845.5" r="2" fill="#333"/>
<rect x="1034.6" y="728" width="100.5" height="32" fill="#212121"/>
<path filter="url(#halo)" d="M1034.6,778 L1034.6,727.3 L1135.1,727.3 L1135.1,778" fill="none" stroke="#e0e0e0" stroke-width="1.8"/>
<rect filter="url(#halo)" x="1040.6" y="732" width="17" height="17" fill="#e2e2e2"/>
<rect x="1044.6" y="736" width="9" height="9" fill="#aaa"/>
<rect filter="url(#halo)" x="1046.1" y="740" width="6" height="19" fill="#ececec"/>
<rect filter="url(#halo)" x="1043.1" y="752" width="12" height="2.5" fill="#e0e0e0"/>
<circle filter="url(#halo)" cx="1072.8" cy="741" r="8.6" fill="#e2e2e2"/>
<circle cx="1072.8" cy="741" r="5" fill="#b4b4b4"/>
<rect filter="url(#halo)" x="1069.8" y="740" width="6" height="19" fill="#ececec"/>
<rect filter="url(#halo)" x="1066.8" y="752" width="12" height="2.5" fill="#e0e0e0"/>
<circle filter="url(#halo)" cx="1096.5" cy="741" r="8.6" fill="#e2e2e2"/>
<circle cx="1096.5" cy="741" r="5" fill="#b4b4b4"/>
<rect filter="url(#halo)" x="1093.5" y="740" width="6" height="19" fill="#ececec"/>
<rect filter="url(#halo)" x="1090.5" y="752" width="12" height="2.5" fill="#e0e0e0"/>
<circle filter="url(#halo)" cx="1120.2" cy="741" r="8.6" fill="#e2e2e2"/>
<circle cx="1120.2" cy="741" r="5" fill="#b4b4b4"/>
<rect filter="url(#halo)" x="1117.2" y="740" width="6" height="19" fill="#ececec"/>
<rect filter="url(#halo)" x="1114.2" y="752" width="12" height="2.5" fill="#e0e0e0"/>
<rect x="1050.1" y="786" width="47.5" height="76" rx="6" fill="#161616"/>
<rect x="1050.1" y="786" width="47.5" height="12" fill="#161616"/>
<rect x="1054.1" y="810" width="39" height="5" fill="#262626"/>
<rect x="1052.1" y="845" width="43.5" height="15" rx="5" fill="#1e1e1e"/>
<path d="M1045.8,789 L1052.4,789 L1052.4,843 L1049.1,847 L1045.8,843 Z" fill="#f4f4f4" stroke="#8a8a8a" stroke-width="1"/>
<path d="M1069.5,789 L1076.1,789 L1076.1,843 L1072.8,847 L1069.5,843 Z" fill="#f4f4f4" stroke="#8a8a8a" stroke-width="1"/>
<path d="M1093.2,789 L1099.8,789 L1099.8,843 L1096.5,847 L1093.2,843 Z" fill="#f4f4f4" stroke="#8a8a8a" stroke-width="1"/>
<path d="M1116.9,789 L1123.5,789 L1123.5,843 L1120.2,847 L1116.9,843 Z" fill="#f4f4f4" stroke="#8a8a8a" stroke-width="1"/>
<circle cx="1120.2" cy="845.5" r="2" fill="#333"/>
<rect x="1136.5" y="725" width="108.5" height="35" fill="#1c1c1c"/>
<rect filter="url(#halo)" x="1142.5" y="732" width="17" height="17" fill="#e2e2e2"/>
<rect x="1146.5" y="736" width="9" height="9" fill="#aaa"/>
<rect filter="url(#halo)" x="1148.0" y="740" width="6" height="19" fill="#ececec"/>
<rect filter="url(#halo)" x="1145.0" y="752" width="12" height="2.5" fill="#e0e0e0"/>
<circle filter="url(#halo)" cx="1174.7" cy="741" r="8.6" fill="#e2e2e2"/>
<circle cx="1174.7" cy="741" r="5" fill="#b4b4b4"/>
<rect filter="url(#halo)" x="1171.7" y="740" width="6" height="19" fill="#ececec"/>
<rect filter="url(#halo)" x="1168.7" y="752" width="12" height="2.5" fill="#e0e0e0"/>
<circle filter="url(#halo)" cx="1198.4" cy="741" r="8.6" fill="#e2e2e2"/>
<circle cx="1198.4" cy="741" r="5" fill="#b4b4b4"/>
<rect filter="url(#halo)" x="1195.4" y="740" width="6" height="19" fill="#ececec"/>
<rect filter="url(#halo)" x="1192.4" y="752" width="12" height="2.5" fill="#e0e0e0"/>
<circle filter="url(#halo)" cx="1222.1" cy="741" r="8.6" fill="#e2e2e2"/>
<circle cx="1222.1" cy="741" r="5" fill="#b4b4b4"/>
<rect filter="url(#halo)" x="1219.1" y="740" width="6" height="19" fill="#ececec"/>
<rect filter="url(#halo)" x="1216.1" y="752" width="12" height="2.5" fill="#e0e0e0"/>
<rect x="1152.0" y="786" width="47.5" height="76" rx="6" fill="#161616"/>
<rect x="1152.0" y="786" width="47.5" height="12" fill="#161616"/>
<rect x="1156.0" y="810" width="39" height="5" fill="#262626"/>
<rect x="1154.0" y="845" width="43.5" height="15" rx="5" fill="#1e1e1e"/>
<path d="M1147.7,789 L1154.3,789 L1154.3,843 L1151.0,847 L1147.7,843 Z" fill="#f4f4f4" stroke="#8a8a8a" stroke-width="1"/>
<path d="M1171.4,789 L1178.0,789 L1178.0,843 L1174.7,847 L1171.4,843 Z" fill="#f4f4f4" stroke="#8a8a8a" stroke-width="1"/>
<path d="M1195.1,789 L1201.7,789 L1201.7,843 L1198.4,847 L1195.1,843 Z" fill="#f4f4f4" stroke="#8a8a8a" stroke-width="1"/>
<path d="M1218.8,789 L1225.4,789 L1225.4,843 L1222.1,847 L1218.8,843 Z" fill="#f4f4f4" stroke="#8a8a8a" stroke-width="1"/>
<circle cx="1222.1" cy="845.5" r="2" fill="#333"/>
</g>
<g id="dims">
<g stroke="#000" stroke-width="3" fill="none" stroke-linecap="butt">
<line x1="1355" y1="233.5" x2="1440" y2="233.5"/>
<line x1="1355" y1="864.5" x2="1440" y2="864.5"/>
<line x1="1396" y1="240" x2="1396" y2="858"/>
<line x1="218" y1="866.5" x2="218" y2="951"/>
<line x1="1353.5" y1="866.5" x2="1353.5" y2="951"/>
<line x1="225" y1="909.5" x2="1346" y2="909.5"/>
</g>
<path d="M1385.5,262 L1396,238 L1406.5,262" fill="none" stroke="#000" stroke-width="2.6" stroke-linejoin="miter" stroke-miterlimit="10"/><polygon points="1396,238 1390.54,252.88 1396,248.8 1401.46,252.88" fill="#000"/>
<path d="M1385.5,836 L1396,860.5 L1406.5,836" fill="none" stroke="#000" stroke-width="2.6" stroke-linejoin="miter" stroke-miterlimit="10"/><polygon points="1396,860.5 1390.54,845.31 1396,849.475 1401.46,845.31" fill="#000"/>
<path d="M245.5,899.5 L221,909.5 L245.5,919.5" fill="none" stroke="#000" stroke-width="2.6" stroke-linejoin="miter" stroke-miterlimit="10"/><polygon points="221,909.5 236.19,904.3 232.025,909.5 236.19,914.7" fill="#000"/>
<path d="M1325.5,899.5 L1350,909.5 L1325.5,919.5" fill="none" stroke="#000" stroke-width="2.6" stroke-linejoin="miter" stroke-miterlimit="10"/><polygon points="1350,909.5 1334.81,904.3 1338.975,909.5 1334.81,914.7" fill="#000"/>
<text x="1437.5" y="565.5" font-family="Liberation Sans" font-weight="bold" font-size="46.5" fill="#111" textLength="141" lengthAdjust="spacingAndGlyphs">6.6 cm</text>
<text x="702.5" y="984.5" font-family="Liberation Sans" font-weight="bold" font-size="46.5" fill="#111" textLength="168" lengthAdjust="spacingAndGlyphs">12.1 cm</text>
</g>
<g id="table">
<rect x="136" y="1064.4" width="1426.5" height="518.3" rx="7" ry="7" fill="none" stroke="#000" stroke-width="3.1"/>
<line x1="136" y1="1133.9" x2="1562.5" y2="1133.9" stroke="#000" stroke-width="3.1"/>
<line x1="136" y1="1208.6" x2="1562.5" y2="1208.6" stroke="#000" stroke-width="3.1"/>
<line x1="136" y1="1283.2" x2="1562.5" y2="1283.2" stroke="#000" stroke-width="3.1"/>
<line x1="136" y1="1357.7" x2="1562.5" y2="1357.7" stroke="#000" stroke-width="3.1"/>
<line x1="136" y1="1432.7" x2="1562.5" y2="1432.7" stroke="#000" stroke-width="3.1"/>
<line x1="136" y1="1508.2" x2="1562.5" y2="1508.2" stroke="#000" stroke-width="3.1"/>
<line x1="648.7" y1="1064.4" x2="648.7" y2="1582.7" stroke="#000" stroke-width="3.1"/>
<text x="172.6" y="1113.6" font-family="Liberation Sans" font-size="40.5" fill="#111" textLength="309" lengthAdjust="spacingAndGlyphs">Connectable fan</text>
<text x="172.2" y="1185.4" font-family="Liberation Sans" font-size="40.5" fill="#111" textLength="243.1" lengthAdjust="spacingAndGlyphs">Fan interface</text>
<text x="173.2" y="1260.2" font-family="Liberation Sans" font-size="40.5" fill="#111" textLength="441.6" lengthAdjust="spacingAndGlyphs">Speed regulation mode</text>
<text x="172.6" y="1335.5" font-family="Liberation Sans" font-size="40.5" fill="#111" textLength="371.1" lengthAdjust="spacingAndGlyphs">Installation position</text>
<text x="172.2" y="1410.8" font-family="Liberation Sans" font-size="40.5" fill="#111" textLength="428.1" lengthAdjust="spacingAndGlyphs">Power supply interface</text>
<text x="172.2" y="1487.2" font-family="Liberation Sans" font-size="40.5" fill="#111" textLength="279.2" lengthAdjust="spacingAndGlyphs">Supply voltage</text>
<text x="174.2" y="1560.5" font-family="Liberation Sans" font-size="40.5" fill="#111" textLength="468.4" lengthAdjust="spacingAndGlyphs">Voltage regulation range</text>
<text x="684" y="1115" font-family="Liberation Sans" font-size="40.5" fill="#111" textLength="113" lengthAdjust="spacingAndGlyphs">8 fans</text>
<text x="686" y="1185" font-family="Liberation Sans" font-size="40.5" fill="#111" textLength="425.8" lengthAdjust="spacingAndGlyphs">Small 3pin / small 4Pin</text>
<text x="685.2" y="1261.2" font-family="Liberation Sans" font-size="40.5" fill="#111" textLength="486.2" lengthAdjust="spacingAndGlyphs">Manual rotary adjustment</text>
<text x="686" y="1336.5" font-family="Liberation Sans" font-size="40.5" fill="#111" textLength="366.1" lengthAdjust="spacingAndGlyphs">Chassis pic location</text>
<text x="685" y="1411.2" font-family="Liberation Sans" font-size="40.5" fill="#111" textLength="214.2" lengthAdjust="spacingAndGlyphs">Large SATA</text>
<text x="685.2" y="1487.4" font-family="Liberation Sans" font-size="40.5" fill="#111" textLength="335.3" lengthAdjust="spacingAndGlyphs">Power supply 12V</text>
<text x="687.2" y="1563.6" font-family="Liberation Sans" font-size="40.5" fill="#111" textLength="138" lengthAdjust="spacingAndGlyphs">0V-12V</text>
</g>
</svg>
</body></html>
